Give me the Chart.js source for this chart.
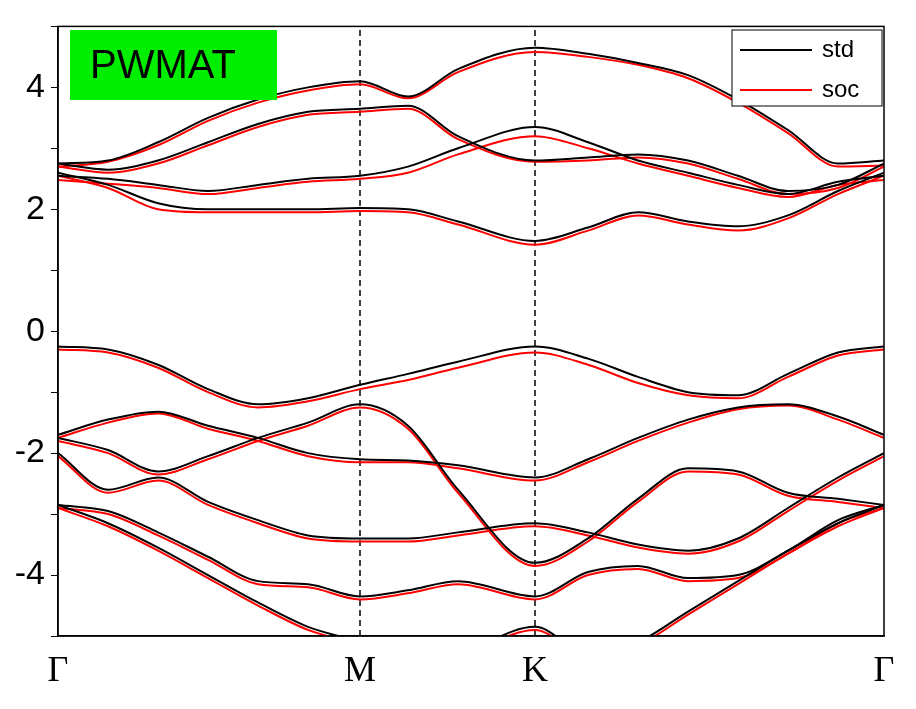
<!DOCTYPE html>
<html>
<head>
<meta charset="utf-8">
<script src="https://cdn.jsdelivr.net/npm/chart.js@4/dist/chart.umd.min.js"></script>
<style>
  body { margin: 0; background: #fff; }
  #wrap { width: 916px; height: 709px; }
</style>
</head>
<body>
<div id="wrap"><canvas id="myChart" width="916" height="709"></canvas></div>
<script>
// k-path positions (Γ=0, M=302, K=477, Γ=826)
const kpts = [0, 50, 100, 150, 200, 250, 302, 350, 400, 477, 530, 580, 630, 680, 730, 780, 826];
const kLabels = ['Γ', 'M', 'K', 'Γ'];
const kTicks = [0, 302, 477, 826];

// bands, standard calculation
const std1 = [2.75, 2.8, 3.1, 3.5, 3.8, 4.0, 4.1, 3.85, 4.3, 4.65, 4.55, 4.4, 4.2, 3.8, 3.3, 2.75, 2.8];
const std2 = [2.75, 2.65, 2.8, 3.1, 3.4, 3.6, 3.65, 3.7, 3.2, 2.8, 2.85, 2.9, 2.8, 2.55, 2.3, 2.4, 2.75];
const std3 = [2.55, 2.5, 2.4, 2.3, 2.4, 2.5, 2.55, 2.7, 3.0, 3.35, 3.1, 2.8, 2.6, 2.4, 2.25, 2.45, 2.55];
const std4 = [2.6, 2.4, 2.1, 2.0, 2.0, 2.0, 2.02, 2.0, 1.8, 1.48, 1.7, 1.95, 1.8, 1.72, 1.9, 2.3, 2.6];
const std5 = [-0.25, -0.3, -0.55, -0.95, -1.2, -1.1, -0.88, -0.7, -0.5, -0.25, -0.45, -0.75, -1.0, -1.05, -0.7, -0.35, -0.25];
const std6 = [-1.7, -1.45, -1.32, -1.55, -1.75, -2.0, -2.1, -2.12, -2.2, -2.4, -2.1, -1.75, -1.45, -1.25, -1.2, -1.4, -1.7];
const std7 = [-1.75, -1.95, -2.3, -2.05, -1.75, -1.5, -1.2, -1.55, -2.6, -3.8, -3.4, -2.75, -2.25, -2.3, -2.65, -2.75, -2.85];
const std8 = [-2.0, -2.6, -2.4, -2.8, -3.1, -3.35, -3.4, -3.4, -3.3, -3.15, -3.3, -3.5, -3.6, -3.4, -2.9, -2.4, -2.0];
const std9 = [-2.85, -2.95, -3.3, -3.7, -4.1, -4.15, -4.35, -4.25, -4.1, -4.35, -3.95, -3.85, -4.05, -4.0, -3.6, -3.1, -2.85];
const std10 = [-2.85, -3.15, -3.55, -4.0, -4.45, -4.85, -5.1, -5.4, -5.3, -4.85, -5.3, -5.1, -4.6, -4.1, -3.6, -3.15, -2.85];

// bands, spin-orbit coupling
const soc1 = [2.7, 2.78, 3.05, 3.45, 3.75, 3.95, 4.05, 3.82, 4.25, 4.58, 4.5, 4.37, 4.15, 3.75, 3.25, 2.7, 2.72];
const soc2 = [2.7, 2.6, 2.75, 3.05, 3.35, 3.55, 3.6, 3.65, 3.15, 2.78, 2.8, 2.85, 2.75, 2.5, 2.25, 2.35, 2.7];
const soc3 = [2.48, 2.42, 2.35, 2.25, 2.35, 2.45, 2.5, 2.6, 2.9, 3.2, 3.0, 2.75, 2.55, 2.35, 2.2, 2.4, 2.48];
const soc4 = [2.55, 2.35, 2.0, 1.95, 1.95, 1.95, 1.97, 1.95, 1.75, 1.42, 1.65, 1.9, 1.75, 1.65, 1.85, 2.25, 2.55];
const soc5 = [-0.3, -0.35, -0.6, -1.0, -1.25, -1.15, -0.95, -0.8, -0.6, -0.35, -0.55, -0.85, -1.05, -1.1, -0.75, -0.4, -0.3];
const soc6 = [-1.75, -1.5, -1.35, -1.6, -1.8, -2.05, -2.15, -2.15, -2.25, -2.45, -2.15, -1.8, -1.5, -1.28, -1.22, -1.45, -1.75];
const soc7 = [-1.8, -2.0, -2.35, -2.1, -1.8, -1.55, -1.25, -1.6, -2.65, -3.85, -3.45, -2.8, -2.3, -2.35, -2.7, -2.8, -2.9];
const soc8 = [-2.05, -2.65, -2.45, -2.85, -3.15, -3.4, -3.45, -3.45, -3.35, -3.2, -3.35, -3.55, -3.65, -3.45, -2.95, -2.45, -2.05];
const soc9 = [-2.9, -3.0, -3.35, -3.75, -4.15, -4.2, -4.4, -4.3, -4.15, -4.4, -4.0, -3.9, -4.1, -4.05, -3.65, -3.15, -2.9];
const soc10 = [-2.9, -3.2, -3.6, -4.05, -4.5, -4.9, -5.15, -5.45, -5.35, -4.9, -5.35, -5.15, -4.65, -4.15, -3.65, -3.2, -2.9];

const stdBands = [std1, std2, std3, std4, std5, std6, std7, std8, std9, std10];
const socBands = [soc1, soc2, soc3, soc4, soc5, soc6, soc7, soc8, soc9, soc10];

function toPts(arr) {
    return arr.map((v, i) => ({ x: kpts[i], y: v }));
}

const datasets = [];
stdBands.forEach(b => datasets.push({ data: toPts(b), borderColor: '#000', borderWidth: 2, pointRadius: 0, cubicInterpolationMode: 'monotone' }));
socBands.forEach(b => datasets.push({ data: toPts(b), borderColor: '#f00', borderWidth: 2, pointRadius: 0, cubicInterpolationMode: 'monotone' }));
// dashed high-symmetry lines
[302, 477].forEach(k => datasets.push({ data: [{ x: k, y: -5 }, { x: k, y: 5 }], borderColor: '#000', borderWidth: 1.5, borderDash: [6, 4], pointRadius: 0 }));

// frame, label box and legend
const decor = {
    id: 'decor',
    afterDatasetsDraw(chart) {
        const c = chart.ctx, a = chart.chartArea;
        c.save();
        c.strokeStyle = '#000';
        c.lineWidth = 1.5;
        c.strokeRect(a.left, a.top, a.right - a.left, a.bottom - a.top);
        // PWMAT label
        c.fillStyle = '#00ee00';
        c.fillRect(70, 30, 207, 70);
        c.fillStyle = '#000';
        c.font = '40px Arial, "Liberation Sans"';
        c.textBaseline = 'middle';
        c.fillText('PWMAT', 90, 67);
        // legend
        c.fillStyle = '#fff';
        c.fillRect(732, 30, 150, 76);
        c.lineWidth = 1;
        c.strokeRect(732, 30, 150, 76);
        c.font = '24px Arial, "Liberation Sans"';
        [['std', '#000', 50], ['soc', '#f00', 90]].forEach(([t, col, y]) => {
            c.strokeStyle = col;
            c.lineWidth = 2;
            c.beginPath(); c.moveTo(740, y); c.lineTo(812, y); c.stroke();
            c.fillStyle = '#000';
            c.fillText(t, 822, y);
        });
        c.restore();
    }
};

new Chart(document.getElementById('myChart').getContext('2d'), {
    type: 'line',
    data: { datasets },
    options: {
        responsive: false,
        animation: false,
        layout: { padding: { top: 22, right: 32, left: 0, bottom: 0 } },
        plugins: { legend: { display: false }, tooltip: { enabled: false } },
        scales: {
            x: {
                type: 'linear', min: 0, max: 826,
                afterBuildTicks: s => { s.ticks = kTicks.map(v => ({ value: v })); },
                ticks: {
                    callback: (v) => kLabels[kTicks.indexOf(v)],
                    color: '#000', maxRotation: 0, autoSkip: false, padding: 14,
                    font: { family: '"Liberation Serif", "DejaVu Serif", serif', size: 36 }
                },
                grid: { display: false, drawTicks: false },
                border: { color: '#000', width: 1.5 },
                afterFit: s => { s.height = 73; }
            },
            y: {
                min: -5, max: 5,
                ticks: {
                    stepSize: 1, color: '#000', padding: 6,
                    callback: v => (v % 2 === 0 ? v : ''),
                    font: { family: 'Arial, "Liberation Sans"', size: 34 }
                },
                grid: { display: true, drawOnChartArea: false, tickLength: 7, color: '#000' },
                border: { color: '#000', width: 1.5 },
                afterFit: s => { s.width = 58; }
            }
        }
    },
    plugins: [decor]
});
</script>
</body>
</html>
